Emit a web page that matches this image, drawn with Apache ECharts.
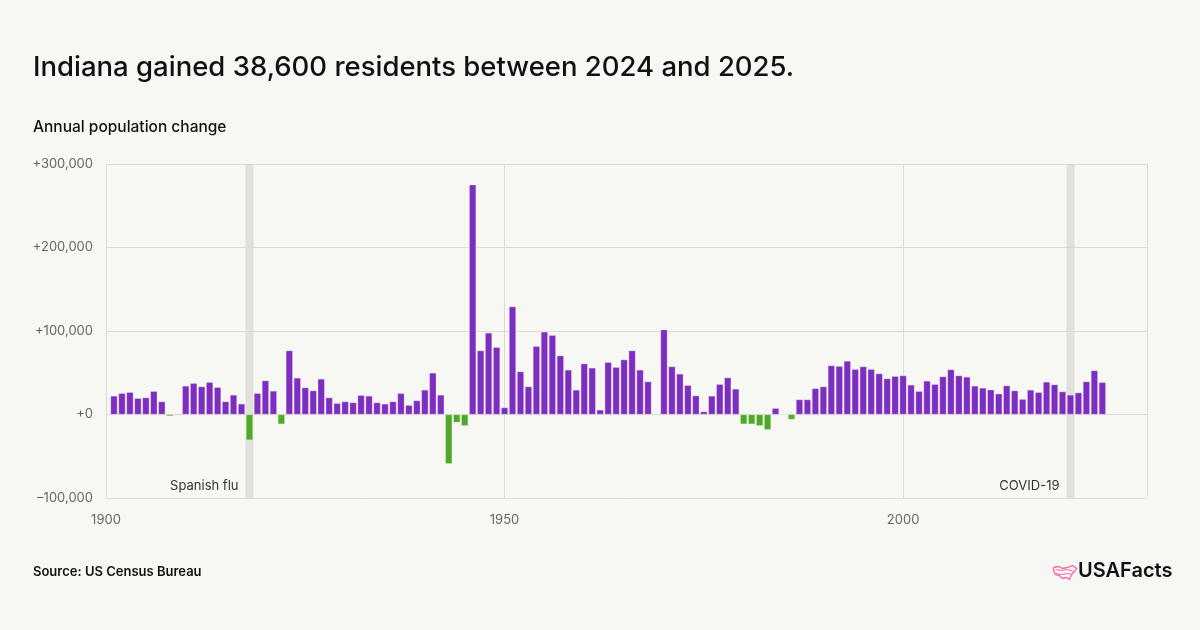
<!DOCTYPE html>
<html lang="en">
<head>
    <meta charset="UTF-8">
    <title>Indiana population change</title>
    <script src="https://cdn.jsdelivr.net/npm/echarts@6/dist/echarts.min.js"></script>
    <style>
        html, body { margin: 0; padding: 0; background: #f7f7f3; }
        #main { width: 1200px; height: 630px; }
    </style>
</head>
<body>
<div id="main"></div>
<script type="text/javascript">
    // annual change, 1901 .. 2025 (1969 has no bar)
    var firstYear = 1901;
    var changes = [
        22300, 25500, 26700, 19500, 20300, 27900, 15600, -2000, 1000, 34300,
        37500, 33500, 38700, 32700, 15600, 23500, 12800, -30700, 25500, 40700,
        28300, -11600, 76600, 43900, 32300, 28700, 42700, 20300, 13600, 15600,
        14400, 23100, 22300, 14400, 12800, 15600, 25500, 11200, 16800, 29500,
        49900, 23500, -59100, -9600, -13600, 275300, 76600, 97800, 80600, 8400,
        129300, 51500, 33500, 81800, 99000, 95000, 70600, 53500, 29500, 61000,
        55900, 5600, 62600, 56700, 65800, 76600, 53500, 39500, null, 101700,
        57500, 48700, 35100, 22700, 3600, 22300, 36300, 44300, 30700, -11600,
        -11600, -13600, -18400, 7600, 500, -6000, 18000, 18000, 31300, 33500,
        58700, 57900, 64200, 54300, 57500, 54300, 49100, 43100, 45900, 46700,
        35500, 27900, 40300, 36300, 45500, 53900, 46700, 45100, 34300, 31900,
        29700, 24900, 34700, 28700, 18400, 29500, 26700, 39100, 35900, 27500,
        23500, 26300, 39500, 52700, 38600
    ];
    var events = ['Spanish flu', 'COVID-19'];
    var eventYears = [1918, 2021];
    var yTicks = [-100000, 0, 100000, 200000, 300000];

    var points = [];
    for (var i = 0; i < changes.length; i++) {
        points.push([firstYear + i, changes[i]]);
    }

    var bands = [];
    for (var j = 0; j < events.length; j++) {
        bands.push([
            {xAxis: eventYears[j] - 0.5, name: events[j]},
            {xAxis: eventYears[j] + 0.5}
        ]);
    }

    function fmt(v) {
        var s = Math.abs(v).toString().replace(/\B(?=(\d{3})+(?!\d))/g, ',');
        return (v < 0 ? '\u2013' : '+') + s;
    }

    var myChart = echarts.init(document.getElementById('main'));
    myChart.setOption({
        backgroundColor: '#f7f7f3',
        animation: false,
        textStyle: { fontFamily: 'Inter, "Noto Sans", sans-serif' },
        title: [
            {
                text: 'Indiana gained 38,600 residents between 2024 and 2025.',
                left: 33, top: 54, padding: 0,
                textStyle: { fontSize: 27.5, fontWeight: 500, color: '#111', fontFamily: 'Inter' }
            },
            {
                text: 'Annual population change',
                left: 33, top: 119, padding: 0,
                textStyle: { fontSize: 15.5, fontWeight: 500, color: '#111', fontFamily: 'Inter' }
            },
            {
                text: 'Source: US Census Bureau',
                left: 33, top: 566, padding: 0,
                textStyle: { fontSize: 13, fontWeight: 600, color: '#111', fontFamily: 'Inter' }
            }
        ],
        grid: { left: 106, right: 53, top: 164, bottom: 132, containLabel: false },
        xAxis: {
            type: 'value',
            min: 1900, max: 2030.6, interval: 50,
            axisLine: { show: false },
            axisTick: { show: false },
            splitLine: { show: true, lineStyle: { color: '#dcdcd7', width: 1 } },
            axisLabel: {
                color: '#666', fontSize: 13, margin: 16, showMaxLabel: false,
                formatter: function (v) { return String(v); }
            }
        },
        yAxis: {
            type: 'value',
            min: yTicks[0], max: yTicks[yTicks.length - 1], interval: 100000,
            axisLine: { show: false },
            axisTick: { show: false },
            splitLine: { lineStyle: { color: '#dcdcd7', width: 1 } },
            axisLabel: { color: '#666', fontSize: 13, margin: 13, formatter: fmt }
        },
        series: [{
            type: 'bar',
            data: points,
            barWidth: 7,
            itemStyle: {
                color: function (p) { return p.value[1] < 0 ? '#4fa828' : '#7d2ec0'; },
                borderColor: 'rgba(255,255,255,0.45)',
                borderWidth: 0.6
            },
            markArea: {
                silent: true,
                itemStyle: { color: 'rgba(210,210,204,0.6)' },
                label: {
                    show: true,
                    position: [-7, '96.5%'],
                    align: 'right',
                    verticalAlign: 'middle',
                    color: '#333',
                    fontSize: 13,
                    fontFamily: 'Inter'
                },
                data: bands
            }
        }],
        graphic: [
            {
                type: 'polyline',
                left: 1051, top: 563,
                shape: { points: [[0,2],[5,1],[9,3],[14,2],[19,0],[23,3],[21,6],[18,9],[16,14],[13,12],[9,13],[6,10],[2,9],[0,5],[0,2]] },
                style: { stroke: '#f06aa8', fill: null, lineWidth: 1.3 }
            },
            {
                type: 'polyline',
                left: 1053, top: 567,
                shape: { points: [[0,0],[6,1],[12,0],[18,2]] },
                style: { stroke: '#f06aa8', fill: null, lineWidth: 1 }
            },
            {
                type: 'polyline',
                left: 1053, top: 571,
                shape: { points: [[0,0],[6,1],[12,0],[17,1]] },
                style: { stroke: '#f06aa8', fill: null, lineWidth: 1 }
            },
            {
                type: 'text',
                left: 1078, top: 561,
                style: { text: 'USAFacts', fill: '#111', font: '600 20px Inter' }
            }
        ]
    });
</script>
</body>
</html>
